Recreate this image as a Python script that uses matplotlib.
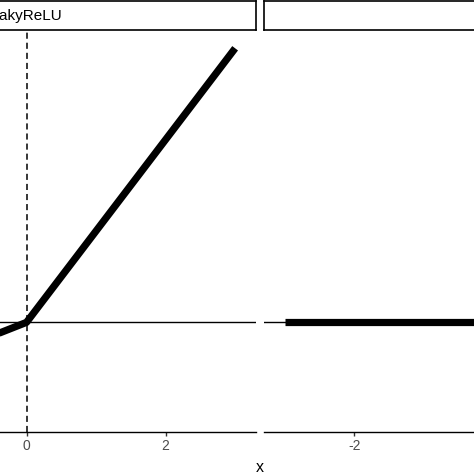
import matplotlib.pyplot as plt

plt.rcParams['font.family'] = ['Liberation Sans', 'DejaVu Sans']

# data
panels = ['LeakyReLU', 'ReLU']
xs = [-3, 0, 3]
leaky_y = [-0.9, 0, 3]
relu_y = [0, 0, 3]
ys = [leaky_y, relu_y]
xticks_left = [0, 2]
xticks_right = [-2]

W = 474.0
fig = plt.figure(figsize=(4.74, 4.74), dpi=100)

def fx(p):
    return p / W

def fy(p):
    return 1 - p / W

panel_w = 459
lefts = [-203, 264]
top, bot = 30, 432
strip_top = 1
ticks = [xticks_left, xticks_right]

for i, name in enumerate(panels):
    l = lefts[i]
    ax = fig.add_axes([fx(l), fy(bot), panel_w / W, (bot - top) / W])
    ax.set_xlim(-3.3, 3.3)
    ax.set_ylim(-1.2, 3.2)
    ax.axhline(0, color='black', lw=1.0, zorder=1)
    ax.axvline(0, color='black', lw=1.1, ls=(0, (4, 2.6)), zorder=1)
    ax.plot(xs, ys[i], color='black', lw=5.2, solid_capstyle='butt', zorder=3)
    for s in ['top', 'right', 'left']:
        ax.spines[s].set_visible(False)
    ax.spines['bottom'].set_linewidth(1.0)
    ax.set_xticks(ticks[i])
    ax.set_xticklabels([str(t) for t in ticks[i]])
    ax.tick_params(axis='x', length=3, width=1.0, color='#333333',
                   labelcolor='#4D4D4D', labelsize=10, pad=2)
    ax.set_yticks([])
    ax.patch.set_alpha(0)

    sax = fig.add_axes([fx(l), fy(top), panel_w / W, (top - strip_top) / W])
    sax.set_xticks([])
    sax.set_yticks([])
    for s in sax.spines.values():
        s.set_linewidth(1.2)
        s.set_color('black')

# strip label of the left panel (centred label, cut by the crop)
fig.text(fx(63), fy(16), panels[0], ha='right', va='center', fontsize=11,
         color='black')

fig.text(fx(260), fy(467), 'x', ha='center', va='center', fontsize=11.5,
         color='black')

fig.savefig('out.png', dpi=100)
